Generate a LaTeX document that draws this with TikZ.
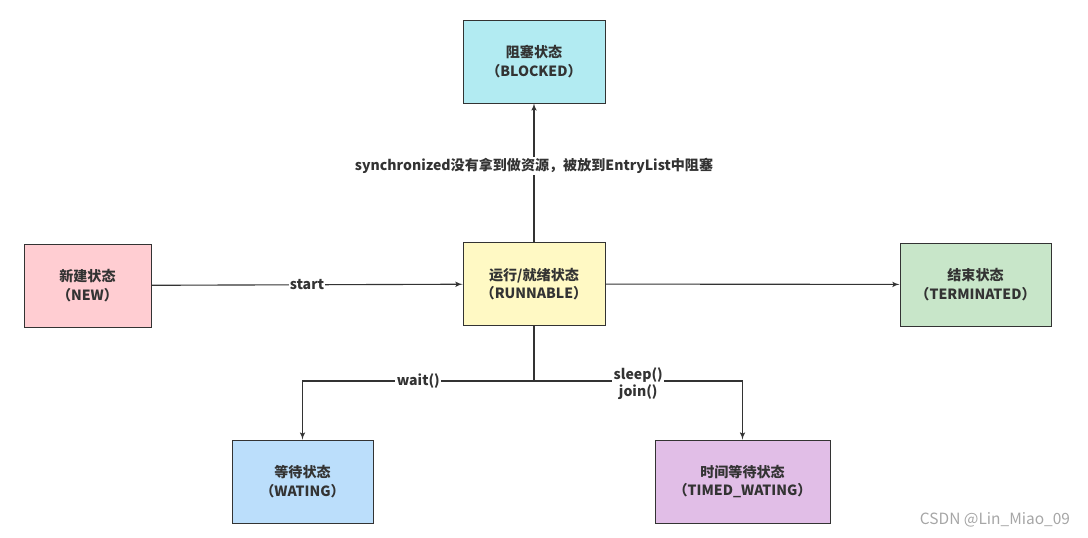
\documentclass[tikz,border=0pt]{standalone}
\usepackage{fontspec}
\setmainfont{Noto Sans CJK SC}
\usetikzlibrary{arrows}
\definecolor{cBlocked}{HTML}{B2EBF2}
\definecolor{cNew}{HTML}{FFCDD2}
\definecolor{cRun}{HTML}{FFF9C4}
\definecolor{cTerm}{HTML}{C8E6C9}
\definecolor{cWait}{HTML}{BBDEFB}
\definecolor{cTimed}{HTML}{E1BEE7}
\definecolor{cLine}{HTML}{333333}
\tikzset{
  state/.style={draw=cLine, semithick, minimum height=2.075cm, align=center,
    font=\bfseries\fontsize{10}{13}\selectfont, text=cLine},
  lbl/.style={font=\bfseries\fontsize{10}{12}\selectfont, text=cLine, fill=white, inner sep=1pt, align=center},
  conn/.style={draw=cLine, thick, -latex'}
}
\begin{document}
\begin{tikzpicture}[x=0.025cm,y=-0.025cm]
		\useasboundingbox (0,0) rectangle (1088,538);
		% states
		\node[state, fill=cBlocked, minimum width=3.55cm] (blocked) at (534,61.5) {阻塞状态\\（BLOCKED）};
		\node[state, fill=cNew, minimum width=3.175cm] (new) at (87.5,285.5) {新建状态\\（NEW）};
		\node[state, fill=cRun, minimum width=3.55cm] (run) at (534,284) {运行/就绪状态\\（RUNNABLE）};
		\node[state, fill=cTerm, minimum width=3.775cm] (term) at (975.5,284.5) {结束状态\\（TERMINATED）};
		\node[state, fill=cWait, minimum width=3.525cm] (wait) at (302.5,481.5) {等待状态\\（WATING）};
		\node[state, fill=cTimed, minimum width=4.375cm] (timed) at (742.5,481.5) {时间等待状态\\（TIMED\_WATING）};
		\coordinate (split) at (534,381);
		% transitions
		\draw[conn] (new) -- node[lbl] {start} (run);
		\draw[conn] (run) -- (term);
		\draw[conn] (run) -- node[lbl, pos=0.55] {synchronized没有拿到做资源，被放到EntryList中阻塞} (blocked);
		\draw[draw=cLine, thick] (run) -- (split);
		\draw[conn] (split) -- node[lbl, pos=0.5] {wait()} (wait.north |- split) -- (wait);
		\draw[conn] (split) -- node[lbl, pos=0.5, yshift=-2pt] {sleep()\\join()} (timed.north |- split) -- (timed);
		\node[text=gray!70, font=\fontsize{11}{13}\selectfont, anchor=east] (mark) at (1075,520) {CSDN @Lin\_Miao\_09};
\end{tikzpicture}
\end{document}
